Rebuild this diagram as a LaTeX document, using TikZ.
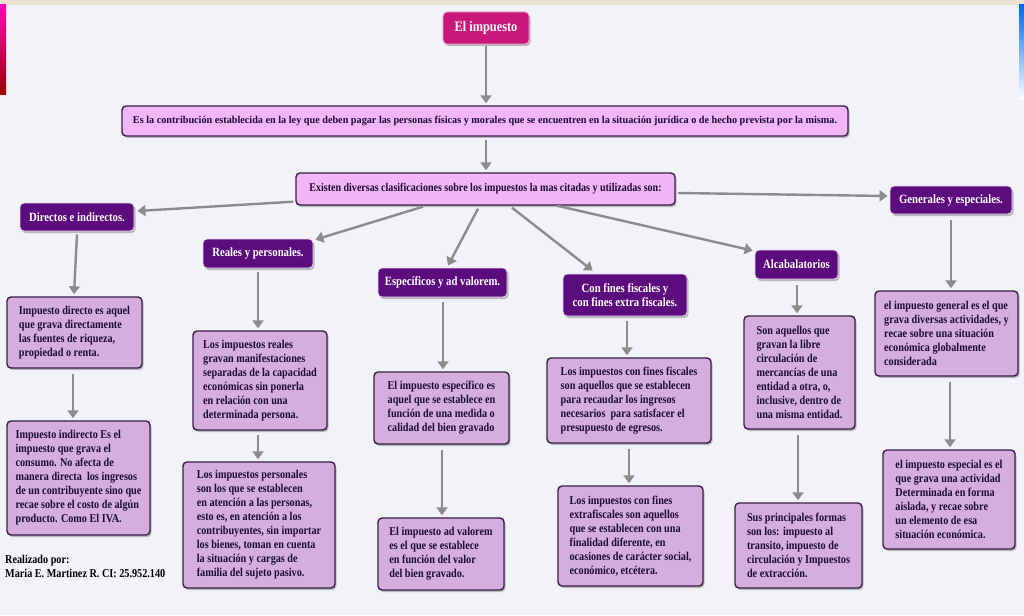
\documentclass[tikz,border=0pt]{standalone}
\usepackage{fontspec}
\usepackage{graphicx}
\setmainfont{Liberation Serif}[FakeStretch=0.85]
\usetikzlibrary{shadows,arrows.meta,calc}
\definecolor{bgc}{HTML}{F1F3F9}
\definecolor{hdr}{HTML}{5C0C7C}
\definecolor{lbx}{HTML}{D6AEDE}
\definecolor{pbx}{HTML}{F2B5F5}
\definecolor{bdr}{HTML}{3A1E48}
\definecolor{txt}{HTML}{1C0B36}
\definecolor{arc}{HTML}{8C8C8C}
\definecolor{mag}{HTML}{C8197A}
\definecolor{strip}{HTML}{EAE3D1}
\begin{document}
\begin{tikzpicture}[x=1pt,y=-1pt,
  shad/.style={drop shadow={shadow xshift=1.5pt,shadow yshift=-2pt,fill=black!70,opacity=0.35}},
  hdrbox/.style={shad,fill=hdr,draw=hdr!15,line width=0.8pt,rounded corners=4pt,text=white,
    font=\bfseries\fontsize{12.6}{14}\selectfont,align=center,inner sep=2pt},
  lbox/.style={shad,fill=lbx,draw=bdr,line width=1.4pt,rounded corners=4pt,text=txt,
    font=\bfseries\fontsize{12}{14}\selectfont,align=left,inner sep=2pt},
  pbox/.style={lbox,fill=pbx},
  arr/.style={draw=arc,line width=2.4pt,-{Triangle[length=8pt,width=11pt]}},
]
\fill[bgc] (0,0) rectangle (1024,615);
\useasboundingbox (0,0) rectangle (1024,615);
\fill[strip] (0,0) rectangle (1024,5);
\shade[top color=magenta!70!red,bottom color=red!60!black] (0,5) rectangle (6,95);
\shade[top color=blue!60!cyan,bottom color=white] (1019,5) rectangle (1024,100);

% top level
\node[hdrbox,fill=mag,draw=mag!40,minimum width=86pt,minimum height=32pt,
  text=white!90!pink,font=\bfseries\fontsize{14.5}{16}\selectfont] (imp) at (486,28) {El impuesto};
\node[pbox,minimum width=726pt,minimum height=30pt] (def) at (485,121)
  {\resizebox{704pt}{\height}{\fontsize{10.5}{11}\selectfont Es la contribución establecida en la ley que deben pagar las personas físicas y morales que se encuentren en la situación jurídica o de hecho prevista por la misma.}};
\node[pbox,minimum width=379pt,minimum height=32pt,font=\bfseries\fontsize{11.8}{13}\selectfont] (exi) at (485.5,189)
  {Existen diversas clasificaciones sobre los impuestos la mas citadas y utilizadas son:};

% headings
\node[hdrbox,minimum width=114pt,minimum height=28pt] (dir) at (77,217) {Directos e indirectos.};
\node[hdrbox,minimum width=110pt,minimum height=29pt] (rea) at (258,253.5) {Reales y personales.};
\node[hdrbox,minimum width=129pt,minimum height=29pt] (esp) at (442.5,282.5) {Específicos y ad valorem.};
\node[hdrbox,minimum width=124pt,minimum height=42pt] (con) at (625,295) {Con fines fiscales y\\con fines extra fiscales.};
\node[hdrbox,minimum width=83pt,minimum height=29pt] (alc) at (796.5,264.5) {Alcabalatorios};
\node[hdrbox,minimum width=122pt,minimum height=28pt] (gen) at (951,200) {Generales y especiales.};

% detail boxes
\node[lbox,minimum width=135pt,minimum height=71pt] (bdir) at (74.5,332.5)
  {Impuesto directo es aquel\\que grava directamente\\las fuentes de riqueza,\\propiedad o renta.};
\node[lbox,minimum width=143pt,minimum height=114pt] (bind) at (78.5,478)
  {Impuesto indirecto Es el\\impuesto que grava el\\consumo. No afecta de\\manera directa\ \ los ingresos\\de un contribuyente sino que\\recae sobre el costo de algún\\producto. Como El IVA.};
\node[lbox,minimum width=134pt,minimum height=99pt] (brea) at (260,380.5)
  {Los impuestos reales\\gravan manifestaciones\\separadas de la capacidad\\económicas sin ponerla\\en relación con una\\determinada persona.};
\node[lbox,minimum width=152pt,minimum height=126pt] (bper) at (259,525)
  {Los impuestos personales\\son los que se establecen\\en atención a las personas,\\esto es, en atención a los\\contribuyentes, sin importar\\los bienes, toman en cuenta\\la situación y cargas de\\familia del sujeto pasivo.};
\node[lbox,minimum width=135pt,minimum height=72pt] (besp) at (441.5,408)
  {El impuesto específico es\\aquel que se establece en\\función de una medida o\\calidad del bien gravado};
\node[lbox,minimum width=126pt,minimum height=72pt] (badv) at (441,554)
  {El impuesto ad valorem\\es el que se establece\\en función del valor\\del bien gravado.};
\node[lbox,minimum width=164pt,minimum height=85pt] (bfis) at (629,400.5)
  {Los impuestos con fines fiscales\\son aquellos que se establecen\\para recaudar los ingresos\\necesarios\ \ para satisfacer el\\presupuesto de egresos.};
\node[lbox,minimum width=145pt,minimum height=100pt] (bext) at (630.5,536)
  {Los impuestos con fines\\extrafiscales son aquellos\\que se establecen con una\\finalidad diferente, en\\ocasiones de carácter social,\\económico, etcétera.};
\node[lbox,minimum width=111pt,minimum height=113pt] (balc) at (799.5,372.5)
  {Son aquellos que\\gravan la libre\\circulación de\\mercancías de una\\entidad a otra, o,\\inclusive, dentro de\\una misma entidad.};
\node[lbox,minimum width=127pt,minimum height=85pt] (bsus) at (798.5,545.5)
  {Sus principales formas\\son los: impuesto al\\transito, impuesto de\\circulación y Impuestos\\de extracción.};
\node[lbox,minimum width=143pt,minimum height=85pt] (bgen) at (946.5,333.5)
  {el impuesto general es el que\\grava diversas actividades, y\\recae sobre una situación\\económica globalmente\\considerada};
\node[lbox,minimum width=132pt,minimum height=99pt] (besp2) at (949,499.5)
  {el impuesto especial es el\\que grava una actividad\\Determinada en forma\\aislada, y recae sobre\\un elemento de esa\\situación económica.};

\node[anchor=west,align=left,inner sep=0pt,text=black,font=\bfseries\fontsize{12}{14}\selectfont] (foot) at (5,566)
  {Realizado por:\\Maria E. Martinez R. CI: 25.952.140};

% connectors
\draw[arr] ($(imp.south)+(0,2)$) -- ($(def.north)+(1,-2)$);
\draw[arr] ($(def.south)+(1,3)$) -- ($(exi.north)+(0.5,-2)$);
\draw[arr] ($(exi.south west)+(-2,-4)$) -- ($(dir.east)+(3,-6)$);
\draw[arr] ($(exi.south)+(-62.5,1)$) -- ($(rea.north east)+(2,1)$);
\draw[arr] ($(exi.south)+(-7.5,3)$) -- ($(esp.north)+(5.5,-2)$);
\draw[arr] ($(exi.south)+(26.5,2)$) -- ($(con.north west)+(30,-3)$);
\draw[arr] ($(exi.south)+(71.5,0)$) -- ($(alc.north west)+(-2,1)$);
\draw[arr] ($(exi.east)+(2.5,4)$) -- ($(gen.west)+(-2,-4)$);

\draw[arr] ($(dir.south)+(0,3)$) -- ($(bdir.north)+(-0.5,-2)$);
\draw[arr] ($(bdir.south)+(-1.5,5)$) -- ($(bind.north)+(-5.5,-2)$);
\draw[arr] ($(rea.south)+(0,3.5)$) -- ($(brea.north)+(-2,-2)$);
\draw[arr] ($(brea.south)+(-2,4)$) -- ($(bper.north)+(-1,-2)$);
\draw[arr] ($(esp.south)+(0.5,5)$) -- ($(besp.north)+(1.5,-2)$);
\draw[arr] ($(besp.south)+(0.5,5)$) -- ($(badv.north)+(1,-2)$);
\draw[arr] ($(con.south)+(2,5)$) -- ($(bfis.north)+(-2,-2)$);
\draw[arr] ($(bfis.south)+(0,5)$) -- ($(bext.north)+(-1.5,-2)$);
\draw[arr] ($(alc.south)+(0.5,6)$) -- ($(balc.north)+(-2.5,-2)$);
\draw[arr] ($(balc.south)+(-1.5,5)$) -- ($(bsus.north)+(-0.5,-2)$);
\draw[arr] ($(gen.south)+(0,6)$) -- ($(bgen.north)+(4.5,-2)$);
\draw[arr] ($(bgen.south)+(3.5,5)$) -- ($(besp2.north)+(1,-2)$);
\end{tikzpicture}
\end{document}
